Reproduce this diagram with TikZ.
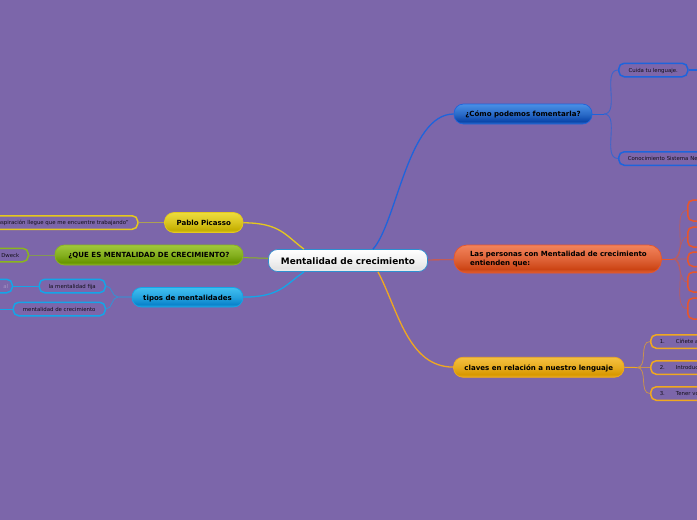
\documentclass[tikz,border=0pt]{standalone}
\usepackage{fontspec}
\setmainfont{DejaVu Sans}
\definecolor{pagebg}{HTML}{7C66AA}
\definecolor{fomtop}{HTML}{4A90E6}
\definecolor{fombot}{HTML}{0A46AA}
\definecolor{fomline}{HTML}{1E64DC}
\definecolor{redtop}{HTML}{F2835C}
\definecolor{redbot}{HTML}{CC4414}
\definecolor{redline}{HTML}{E8562A}
\definecolor{ambtop}{HTML}{F5C040}
\definecolor{ambbot}{HTML}{D89800}
\definecolor{ambline}{HTML}{F0A820}
\definecolor{yeltop}{HTML}{EDDC3C}
\definecolor{yelbot}{HTML}{C4AE00}
\definecolor{yelline}{HTML}{E5C81E}
\definecolor{grntop}{HTML}{A0C83C}
\definecolor{grnbot}{HTML}{689600}
\definecolor{grnline}{HTML}{8AB51E}
\definecolor{cyntop}{HTML}{40C0F0}
\definecolor{cynbot}{HTML}{0A84CC}
\definecolor{cynline}{HTML}{14A5E8}
\definecolor{maintop}{HTML}{FFFFFF}
\definecolor{mainbot}{HTML}{E4E4E4}
\definecolor{mainline}{HTML}{2E8FD0}
\colorlet{glosstop}{white}
\colorlet{glossbot}{gray}
\pgfdeclareverticalshading[glosstop,glossbot]{gloss}{100bp}{color(0bp)=(glossbot!70!glosstop); color(25bp)=(glossbot!70!glosstop); color(28bp)=(glossbot!70!glosstop); color(32bp)=(glossbot); color(50bp)=(glossbot!50!glosstop); color(75bp)=(glosstop); color(100bp)=(glosstop)}
\tikzset{
  branch/.style={draw=#1line, line width=0.7pt, shade, shading=gloss,
    /utils/exec={\colorlet{glosstop}{#1top}\colorlet{glossbot}{#1bot}},
    rounded corners=9.5pt, font=\fontsize{7.05}{8.8}\selectfont\bfseries, text=black, inner sep=0pt,
    text height=5.6pt, text depth=0pt},
  leaf/.style={draw=#1, line width=1.5pt, rounded corners=5.5pt, minimum height=13.5pt,
    font=\fontsize{5.4}{6.5}\selectfont, text=black!85!pagebg, inner ysep=0pt, inner xsep=9pt,
    text height=4.3pt, text depth=0pt},
  twig/.style={draw=#1, line width=0.7pt},
  limb/.style={draw=#1, line width=1.3pt}
}
\begin{document}
\begin{tikzpicture}[x=1pt,y=-1pt]
  \useasboundingbox (0,0) rectangle (697,520);
  \fill[pagebg] (0,0) rectangle (697,520);

  \node [branch=main,rounded corners=9pt,minimum width=159pt,minimum height=22pt,font=\fontsize{8.9}{10}\selectfont\bfseries,text height=7pt](main)at(348,260.5){Mentalidad de crecimiento};

  \node [branch=fom,minimum width=138pt,minimum height=20pt](fom)at(523,114){¿Cómo podemos fomentarla?};
  \node [branch=red,rounded corners=13pt,minimum width=207.5pt,minimum height=28pt,text width=175.5pt,align=left,text height={},text depth={}](per)at(557.75,259){\mbox{Las personas con Mentalidad de crecimiento}\\entienden que:};
  \node [branch=amb,minimum width=170.5pt,minimum height=20pt](cla)at(538.75,367.25){claves en relación a nuestro lenguaje};
  \node [branch=yel,minimum width=78.5pt,minimum height=20pt](pic)at(203.75,222.5){Pablo Picasso};
  \node [branch=grn,minimum width=188pt,minimum height=20pt](que)at(149,255){¿QUE ES MENTALIDAD DE CRECIMIENTO?};
  \node [branch=cyn,minimum width=111pt,minimum height=19.5pt](tip)at(187.5,297.25){tipos de mentalidades};

  \node [leaf=fomline,anchor=west,minimum width=69pt](cui)at(618,70){Cuida tu lenguaje.};
  \node [leaf=fomline,anchor=west,text width=120pt](con)at(618,158.5){Conocimiento Sistema Ne};

  \node [leaf=redline,anchor=west,minimum width=40pt,minimum height=21pt](r1)at(687,210.5){};
  \node [leaf=redline,anchor=west,minimum width=40pt,minimum height=20pt](r2)at(687,237){};
  \node [leaf=redline,anchor=west,minimum width=40pt,minimum height=14.5pt](r3)at(687,259.25){};
  \node [leaf=redline,anchor=west,minimum width=40pt,minimum height=20pt](r4)at(687,282){};
  \node [leaf=redline,anchor=west,minimum width=40pt,minimum height=21pt](r5)at(687,308.5){};

  \node [leaf=ambline,anchor=west,text width=120pt](a1)at(650,341.5){1.\hspace{11pt}Cíñete a};
  \node [leaf=ambline,anchor=west,text width=120pt](a2)at(650,367.5){2.\hspace{11pt}Introduc};
  \node [leaf=ambline,anchor=west,text width=120pt](a3)at(650,393.5){3.\hspace{11pt}Tener vo};

  \node [leaf=yelline,anchor=east](q1)at(138.5,222.5){inspiración llegue que me encuentre trabajando”};
  \node [leaf=grnline,anchor=east,text width=40pt,align=right](dw)at(29,255){Dweck};
  \node [leaf=cynline,anchor=east,minimum width=66pt](fij)at(106,286){la mentalidad fija};
  \node [leaf=cynline,anchor=east,minimum width=92pt](cre)at(106,309){mentalidad de crecimiento};
  \node [leaf=cynline,anchor=east,text width=40pt,align=right,text=white!30!pagebg,inner xsep=4pt](fa)at(13,286){al};
  \coordinate (crend) at (0,309);

  \coordinate (fomj) at (604,114);
  \coordinate (perj) at (673,259);
  \coordinate (claj) at (637,367.5);
  \coordinate (tipj) at (118,297);
  \coordinate (cuiend) at (697,70);

  \draw [limb=fomline] ([xshift=25pt]main.north) .. controls (397,222) and (408,114) .. (fom);
  \draw [limb=ambline] ([xshift=30pt]main.south) .. controls (398,310) and (408,367) .. (cla);
  \draw [limb=yelline] (pic) .. controls (280,223) and (285,235) .. ([xshift=-44pt]main.north);
  \draw [limb=cynline] (tip) .. controls (280,297) and (285,285) .. ([xshift=-44pt]main.south);
  \draw [twig=redline,line width=0.8pt] (main) -- (per);
  \draw [twig=grnline,line width=1pt] (que) -- (main);

  \draw [twig=fomline,line width=1pt] (fom) -- (fomj);
  \draw [twig=fomline!70!pagebg,line width=0.9pt] (fomj) to[out=0,in=180,looseness=0.9] (cui);
  \draw [twig=fomline!70!pagebg,line width=0.9pt] (fomj) to[out=0,in=180,looseness=0.9] (con);
  \draw [twig=fomline,line width=1.2pt] (cui) -- (cuiend);

  \draw [twig=redline,line width=0.8pt] (per) -- (perj);
  \draw [twig=redline!60!pagebg] (perj) to[out=0,in=180,looseness=0.8] (r1);
  \draw [twig=redline!60!pagebg] (perj) to[out=0,in=180,looseness=0.8] (r2);
  \draw [twig=redline!60!pagebg] (perj) -- (r3);
  \draw [twig=redline!60!pagebg] (perj) to[out=0,in=180,looseness=0.8] (r4);
  \draw [twig=redline!60!pagebg] (perj) to[out=0,in=180,looseness=0.8] (r5);

  \draw [twig=ambline,line width=1pt] (cla) -- (claj);
  \draw [twig=ambline!65!pagebg,line width=0.8pt] (claj) to[out=0,in=180] (a1);
  \draw [twig=ambline!65!pagebg,line width=0.8pt] (claj) -- (a2);
  \draw [twig=ambline!65!pagebg,line width=0.8pt] (claj) to[out=0,in=180] (a3);

  \draw [twig=yelline!45!gray,line width=0.8pt] (pic) -- (q1);
  \draw [twig=grnline!45!gray,line width=1pt] (que) -- (dw);
  \draw [twig=cynline,line width=0.8pt] (tip) -- (tipj);
  \draw [twig=cynline!70!pagebg,line width=0.8pt] (tipj) to[out=180,in=0] (fij);
  \draw [twig=cynline!70!pagebg,line width=0.8pt] (tipj) to[out=180,in=0] (cre);
  \draw [twig=cynline,line width=0.8pt] (fij) -- (fa);
  \draw [twig=cynline,line width=0.8pt] (cre.west) -- (crend);
\end{tikzpicture}
\end{document}
